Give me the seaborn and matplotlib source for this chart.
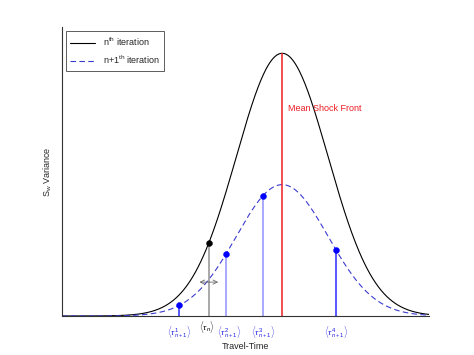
import numpy as np
import pandas as pd
import seaborn as sns
import matplotlib.pyplot as plt

# curve parameters
x_grid = np.linspace(0, 10, 400)
mean_front = 6.0
spread = 1.25
peak_n = 1.0
peak_n1 = 0.5

tau_n = 4.0
tau_n1 = [3.2, 4.47, 5.48, 7.47]
tau_n1_labels = [r"$\langle\tau^{1}_{n+1}\rangle$", r"$\langle\tau^{2}_{n+1}\rangle$",
                 r"$\langle\tau^{3}_{n+1}\rangle$", r"$\langle\tau^{4}_{n+1}\rangle$"]
stem_colors = ["#3c3cff", "#9a9aff", "#9a9aff", "#3c3cff"]


def curve(x, peak):
    return peak * np.exp(-(np.asarray(x) - mean_front) ** 2 / (2 * spread ** 2))


sns.set_style("white")
plt.rcParams["font.family"] = ["Liberation Sans", "DejaVu Sans"]
plt.rcParams["mathtext.fontset"] = "custom"
plt.rcParams["mathtext.rm"] = "Liberation Sans"
plt.rcParams["mathtext.it"] = "Liberation Sans:italic"

fig = plt.figure(figsize=(4.74, 3.55), dpi=100)
ax = fig.add_axes([62 / 474, 1 - 316 / 355, 367 / 474, 289 / 355])

df = pd.DataFrame({"x": np.concatenate([x_grid, x_grid]),
                   "y": np.concatenate([curve(x_grid, peak_n), curve(x_grid, peak_n1)]),
                   "it": ["n"] * len(x_grid) + ["n1"] * len(x_grid)})
sns.lineplot(data=df[df.it == "n"], x="x", y="y", color="black", lw=0.8, ax=ax,
             label=r"n$^{\rm th}$ iteration")
sns.lineplot(data=df[df.it == "n1"], x="x", y="y", color="#3a3ad0", lw=0.8, ax=ax,
             linestyle=(0, (5, 3)), label=r"n+1$^{\rm th}$ iteration")

# mean shock front
ax.vlines(mean_front, 0, peak_n, color="#ee1c24", lw=1.1)
ax.text(mean_front + 0.15, 0.79, "Mean Shock Front", color="#ee1c24", fontsize=6.5,
        va="center")

# stems
ax.vlines(tau_n, 0, curve(tau_n, peak_n), color="#999999", lw=1.2)
for t, c in zip(tau_n1, stem_colors):
    ax.vlines(t, 0, curve(t, peak_n1), color=c, lw=1.2)

sns.scatterplot(x=[tau_n], y=curve([tau_n], peak_n), color="black", s=18, ax=ax,
                edgecolor="black", zorder=5, legend=False)
sns.scatterplot(x=tau_n1, y=curve(tau_n1, peak_n1), color="#0000ff", s=18, ax=ax,
                edgecolor="#0000ff", zorder=5, legend=False)

# double arrow
ax.annotate("", xy=(3.67, 0.129), xytext=(4.33, 0.129),
            arrowprops=dict(arrowstyle="<->,head_length=0.3,head_width=0.15",
                            color="#666666", lw=0.6))

# labels under the axis
ax.text(tau_n - 0.05, -0.01, r"$\langle\tau_{n}\rangle$", ha="center", va="top",
        fontsize=6, color="black")
for t, lab in zip(tau_n1, tau_n1_labels):
    ax.text(t + (0.08 if t == tau_n1[1] else 0), -0.03, lab, ha="center", va="top",
            fontsize=6, color="#2020e0")

ax.set_xlim(0, 10)
ax.set_ylim(0, 1.1)
ax.set_xticks([])
ax.set_yticks([])
ax.set_xlabel("Travel-Time", fontsize=6.5, labelpad=19)
ax.set_ylabel(r"S$_{\rm w}$ Variance", fontsize=6.5, labelpad=6)
for side in ["top", "right"]:
    ax.spines[side].set_visible(False)
for side in ["left", "bottom"]:
    ax.spines[side].set_color("#333333")
    ax.spines[side].set_linewidth(0.8)

leg = ax.legend(loc="upper left", bbox_to_anchor=(0.01, 0.985), fontsize=6.5,
                frameon=True, fancybox=False, handlelength=2.8, borderpad=0.5,
                labelspacing=0.6, borderaxespad=0)
leg.get_frame().set_edgecolor("#333333")
leg.get_frame().set_linewidth(0.7)

fig.savefig("out.png", dpi=100)
